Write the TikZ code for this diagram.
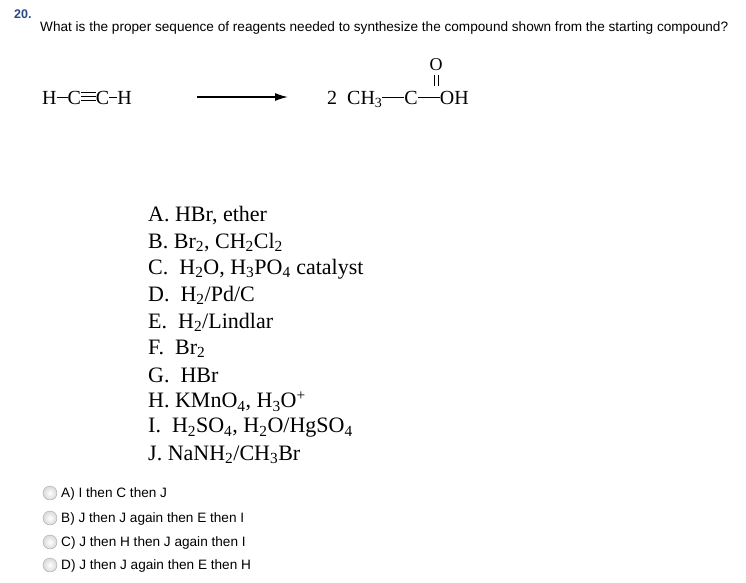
\documentclass[tikz,border=0pt]{standalone}
\usepackage{fontspec}
\usetikzlibrary{arrows.meta}
\setmainfont{Liberation Serif}
\setsansfont{Liberation Sans}
\newcommand{\bnd}[1]{\raisebox{0.32em}{\rule{#1}{1pt}}}
\newcommand{\tbnd}{\raisebox{0.15em}{\rlap{\rule{15pt}{1pt}}\raisebox{4pt}{\rlap{\rule{15pt}{1pt}}}\raisebox{8pt}{\rule{15pt}{1pt}}}}
\begin{document}
\begin{tikzpicture}[x=1pt,y=-1pt,
  q/.style={anchor=west,inner sep=0pt,font=\sffamily\fontsize{13.6}{15}\selectfont},
  chem/.style={anchor=base west,inner sep=0pt,font=\fontsize{20}{22}\selectfont},
  opt/.style={anchor=west,inner sep=0pt,font=\fontsize{22}{24}\selectfont},
  ans/.style={anchor=west,inner sep=0pt,font=\sffamily\fontsize{13.6}{15}\selectfont},
  radio/.style={circle,draw=gray!70,shade,inner color=white,outer color=gray!30,minimum size=14pt,inner sep=0pt}]
\useasboundingbox (0,0) rectangle (746,582);
\definecolor{qblue}{RGB}{40,70,130}
\node[anchor=west,inner sep=0pt,font=\sffamily\bfseries\fontsize{12.5}{14}\selectfont,text=qblue] (num) at (14,14) {20.};
\node[q] (qq) at (40,28) {What is the proper sequence of reagents needed to synthesize the compound shown from the starting compound?};
\node[chem] (start) at (42,104) {H\bnd{11pt}C\tbnd C\bnd{8pt}H};
\coordinate (a1) at (197,97);
\coordinate (a2) at (288,97);
\draw[line width=1.4pt,-{Latex[length=13pt,width=8pt]}] (a1) -- (a2);
\node[chem] (prod) at (327,104) {2\ \ CH\textsubscript{3}\bnd{22pt}C\bnd{22pt}OH};
\node[inner sep=0pt,font=\fontsize{18}{18}\selectfont] (ox) at (436,65) {O};
\coordinate (c1) at (434,75); \coordinate (c2) at (434,86);
\coordinate (c3) at (438,75); \coordinate (c4) at (438,86);
\draw[line width=0.8pt] (c1) -- (c2) (c3) -- (c4);
\node[opt] (oa) at (148,216) {A. HBr, ether};
\node[opt] (ob) at (148,242.5) {B. Br\textsubscript{2}, CH\textsubscript{2}Cl\textsubscript{2}};
\node[opt] (oc) at (148,269) {C.\ \ H\textsubscript{2}O, H\textsubscript{3}PO\textsubscript{4} catalyst};
\node[opt] (od) at (148,295.5) {D.\ \ H\textsubscript{2}/Pd/C};
\node[opt] (oe) at (148,322) {E.\ \ H\textsubscript{2}/Lindlar};
\node[opt] (of) at (148,348.5) {F.\ \ Br\textsubscript{2}};
\node[opt] (og) at (148,375) {G.\ \ HBr};
\node[opt] (oh) at (148,401.5) {H. KMnO\textsubscript{4}, H\textsubscript{3}O\textsuperscript{+}};
\node[opt] (oi) at (148,428) {I.\ \ H\textsubscript{2}SO\textsubscript{4}, H\textsubscript{2}O/HgSO\textsubscript{4}};
\node[opt] (oj) at (148,454.5) {J.\ NaNH\textsubscript{2}/CH\textsubscript{3}Br};
\node[radio] (r1) at (50,493) {}; \node[ans] (t1) at (61,494) {A) I then C then J};
\node[radio] (r2) at (50,518) {}; \node[ans] (t2) at (61,519) {B) J then J again then E then I};
\node[radio] (r3) at (50,542) {}; \node[ans] (t3) at (61,543) {C) J then H then J again then I};
\node[radio] (r4) at (50,565) {}; \node[ans] (t4) at (61,566) {D) J then J again then E then H};
\end{tikzpicture}
\end{document}
